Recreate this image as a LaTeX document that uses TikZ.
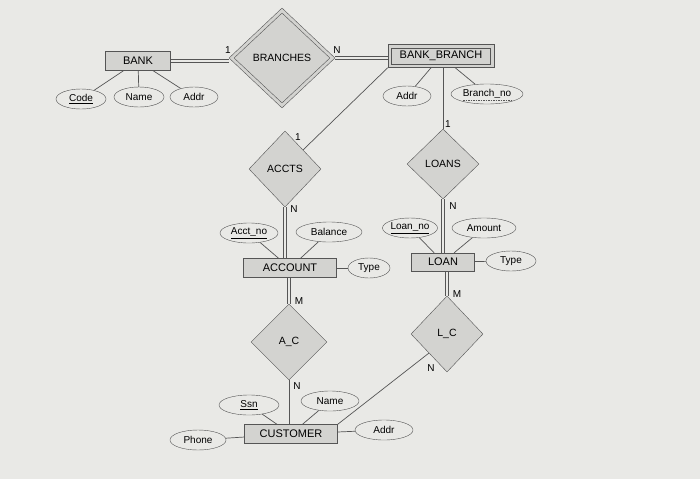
\documentclass[tikz,border=0pt]{standalone}
\usepackage{fontspec}
\setmainfont{Liberation Sans}
\usetikzlibrary{shapes.geometric}
\pgfdeclarelayer{bgl}
\pgfdeclarelayer{lines}
\pgfsetlayers{bgl,lines,main}
\definecolor{bg}{HTML}{E9E9E6}
\definecolor{sh}{HTML}{D3D3D0}
\definecolor{ln}{HTML}{555555}
\tikzset{x=1pt,y=-1pt,
 ent/.style={draw=ln,fill=sh,minimum height=19pt,inner sep=1pt,font=\fontsize{11}{13}\selectfont},
 rel/.style={diamond,draw=ln,fill=sh,aspect=1,inner sep=0pt,font=\fontsize{10.5}{12}\selectfont},
 att/.style={ellipse,draw=ln,fill=bg,minimum height=20pt,inner sep=0pt,font=\fontsize{10}{12}\selectfont},
 ln/.style={draw=ln,line width=0.7pt},
 dl/.style={draw=ln,line width=0.6pt,double=bg,double distance=2pt},
 lab/.style={font=\fontsize{10}{12}\selectfont}}
\begin{document}
\begin{tikzpicture}
\begin{pgfonlayer}{bgl}
\fill[bg] (0,0) rectangle (700,479);
\end{pgfonlayer}
\useasboundingbox (0,0) rectangle (700,479);
% relationships
\node[rel,minimum width=106pt,minimum height=100pt] (br) at (282,58) {};
\node[rel,minimum width=96pt,minimum height=90pt] (bri) at (282,58) {BRANCHES};
\node[rel,minimum width=72pt,minimum height=76pt] (ac) at (285,169) {ACCTS};
\node[rel,minimum width=72pt,minimum height=70pt] (lo) at (443,164) {LOANS};
\node[rel,minimum width=76pt,minimum height=76pt] (a_c) at (289,342) {A\_C};
\node[rel,minimum width=72pt,minimum height=76pt] (l_c) at (447,334) {L\_C};
% entities
\node[ent,minimum width=65pt] (bank) at (138,61) {BANK};
\node[ent,minimum width=106pt,minimum height=23pt] (bb) at (441,56) {};
\node[ent,minimum width=99pt,minimum height=16pt] (bbi) at (441,56) {BANK\_BRANCH};
\node[ent,minimum width=93pt] (acc) at (290,268) {ACCOUNT};
\node[ent,minimum width=63pt,minimum height=18pt] (loan) at (443,262) {LOAN};
\node[ent,minimum width=93pt] (cust) at (291,434) {CUSTOMER};
% attributes
\node[att,minimum width=50pt] (code) at (81,99) {\underline{Code}};
\node[att,minimum width=50pt] (bname) at (139,97) {Name};
\node[att,minimum width=48pt] (baddr) at (194,97) {Addr};
\node[att,minimum width=48pt] (bbaddr) at (407,96) {Addr};
\node[att,minimum width=72pt] (bno) at (487,94) {Branch\_no};
\draw[ln,line width=0.5pt,dash pattern=on 1.5pt off 1pt] ([xshift=-24pt,yshift=-6pt]bno.center) -- ([xshift=24pt,yshift=-6pt]bno.center);
\node[att,minimum width=58pt] (ano) at (249,233) {\underline{Acct\_no}};
\node[att,minimum width=66pt] (bal) at (329,232) {Balance};
\node[att,minimum width=42pt] (atype) at (369,268) {Type};
\node[att,minimum width=54pt] (lno) at (410,228) {\underline{Loan\_no}};
\node[att,minimum width=64pt] (amt) at (484,228) {Amount};
\node[att,minimum width=50pt] (ltype) at (511,261) {Type};
\node[att,minimum width=60pt] (ssn) at (249,405) {\underline{Ssn}};
\node[att,minimum width=58pt] (cname) at (330,401) {Name};
\node[att,minimum width=58pt] (caddr) at (384,430) {Addr};
\node[att,minimum width=56pt] (phone) at (198,440) {Phone};
% connectors
\begin{pgfonlayer}{lines}
\path[dl] (bank.east) -- (bank.east -| br.west);
\path[dl] (br.east) -- (br.east -| bb.west);
\path[ln] (bb.south west) -- (ac.north east);
\path[ln] (lo.north |- bb.south) -- (lo.north);
\path[dl] (ac.south) -- (acc.north -| ac.south);
\path[dl] (lo.south) -- (loan.north -| lo.south);
\path[dl] (acc.south -| a_c.north) -- (a_c.north);
\path[dl] (loan.south -| l_c.north) -- (l_c.north);
\path[ln] (a_c.south) -- (cust.north -| a_c.south);
\path[ln] (l_c.south west) -- (cust.north east);
\foreach \a/\b in {code/bank,bname/bank,baddr/bank,bbaddr/bb,bno/bb,ano/acc,bal/acc,atype/acc,lno/loan,amt/loan,ltype/loan,ssn/cust,cname/cust,caddr/cust,phone/cust}
  \path[ln] (\a) -- (\b);
\end{pgfonlayer}
% cardinalities
\node[lab] (c1) at (228,50) {1};
\node[lab] (c2) at (337,50) {N};
\node[lab] (c3) at (298,137) {1};
\node[lab] (c4) at (448,124) {1};
\node[lab] (c5) at (294,209) {N};
\node[lab] (c6) at (453,206) {N};
\node[lab] (c7) at (299,301) {M};
\node[lab] (c8) at (457,294) {M};
\node[lab] (c9) at (297,386) {N};
\node[lab] (c10) at (431,368) {N};
\end{tikzpicture}
\end{document}
